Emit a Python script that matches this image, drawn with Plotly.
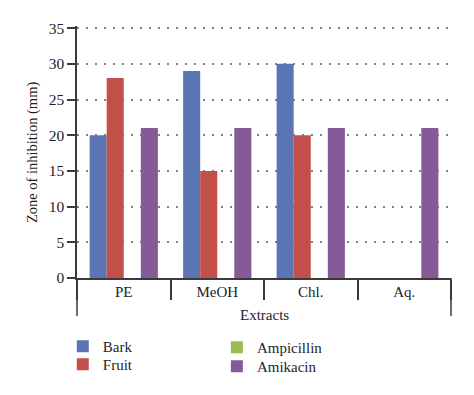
import plotly.graph_objects as go

categories = ["PE", "MeOH", "Chl.", "Aq."]
bark = [20, 29, 30, 0]
fruit = [28, 15, 20, 0]
ampicillin = [0, 0, 0, 0]
amikacin = [21, 21, 21, 21]
y_ticks = [0, 5, 10, 15, 20, 25, 30, 35]

series = [
    ("Bark", bark, "#5b74b4", "legend"),
    ("Fruit", fruit, "#c34f4a", "legend2"),
    ("Ampicillin", ampicillin, "#9bbb59", "legend3"),
    ("Amikacin", amikacin, "#845b97", "legend4"),
]

FONT = "Liberation Serif"
TXT = "#1e1e1e"
fig = go.Figure()
for name, vals, color, lg in series:
    fig.add_trace(go.Bar(x=categories, y=vals, name=name, marker_color=color,
                         marker_line_width=0, legend=lg))

# plot area height is 252 px (t=26, b=117); paper fractions below use it
PH = 252.0


def leg(x, y_px):
    return dict(x=x, y=-y_px / PH, xanchor="left", yanchor="top",
                font=dict(family=FONT, size=15, color=TXT),
                tracegroupgap=0, itemwidth=30, bgcolor="rgba(0,0,0,0)")


axis_color = "#3a3a3a"
fig.update_layout(
    width=474, height=395,
    margin=dict(l=77, r=23, t=26, b=117),
    paper_bgcolor="white", plot_bgcolor="white",
    font=dict(family=FONT, size=14, color=TXT),
    barmode="group", bargap=0.27, bargroupgap=0,
    showlegend=True,
    legend=leg(-0.038, 52),
    legend2=leg(-0.038, 70),
    legend3=leg(0.374, 53),
    legend4=leg(0.374, 72),
    xaxis=dict(
        automargin=False,
        showline=True, linecolor=axis_color, linewidth=1.5,
        ticks="outside", tickson="boundaries", ticklen=20, tickwidth=1.5,
        tickcolor=axis_color, ticklabelstandoff=-1,
        tickfont=dict(family=FONT, size=15, color=TXT),
        showgrid=False,
    ),
    yaxis=dict(
        automargin=False,
        range=[0, 35.3], tickvals=y_ticks,
        showline=True, linecolor=axis_color, linewidth=1.5,
        ticks="outside", ticklen=8, tickwidth=1.5, tickcolor=axis_color,
        tickfont=dict(family=FONT, size=15.5, color=TXT),
        showgrid=True, gridcolor="#808080", gridwidth=1.5, griddash="1.5px,7.5px",
        zeroline=False,
    ),
    annotations=[
        dict(text="Extracts", xref="paper", yref="paper", x=0.5, y=-37 / PH,
             xanchor="center", yanchor="middle", showarrow=False,
             font=dict(family=FONT, size=15, color=TXT)),
        dict(text="Zone of inhibition (mm)", xref="paper", yref="paper", x=-0.12, y=0.5,
             xanchor="center", yanchor="middle", textangle=-90, showarrow=False,
             font=dict(family=FONT, size=14.5, color=TXT)),
    ],
)

# outer frame lines extending below the axis
for xp in (0, 1):
    fig.add_shape(type="line", xref="paper", yref="paper", x0=xp, x1=xp, y0=0, y1=-38 / PH,
                  line=dict(color=axis_color, width=1.5))

fig.write_html("out.html", config={"displayModeBar": False},
               post_script="document.body.style.margin='0';document.body.style.padding='0';document.body.style.overflow='hidden';")
